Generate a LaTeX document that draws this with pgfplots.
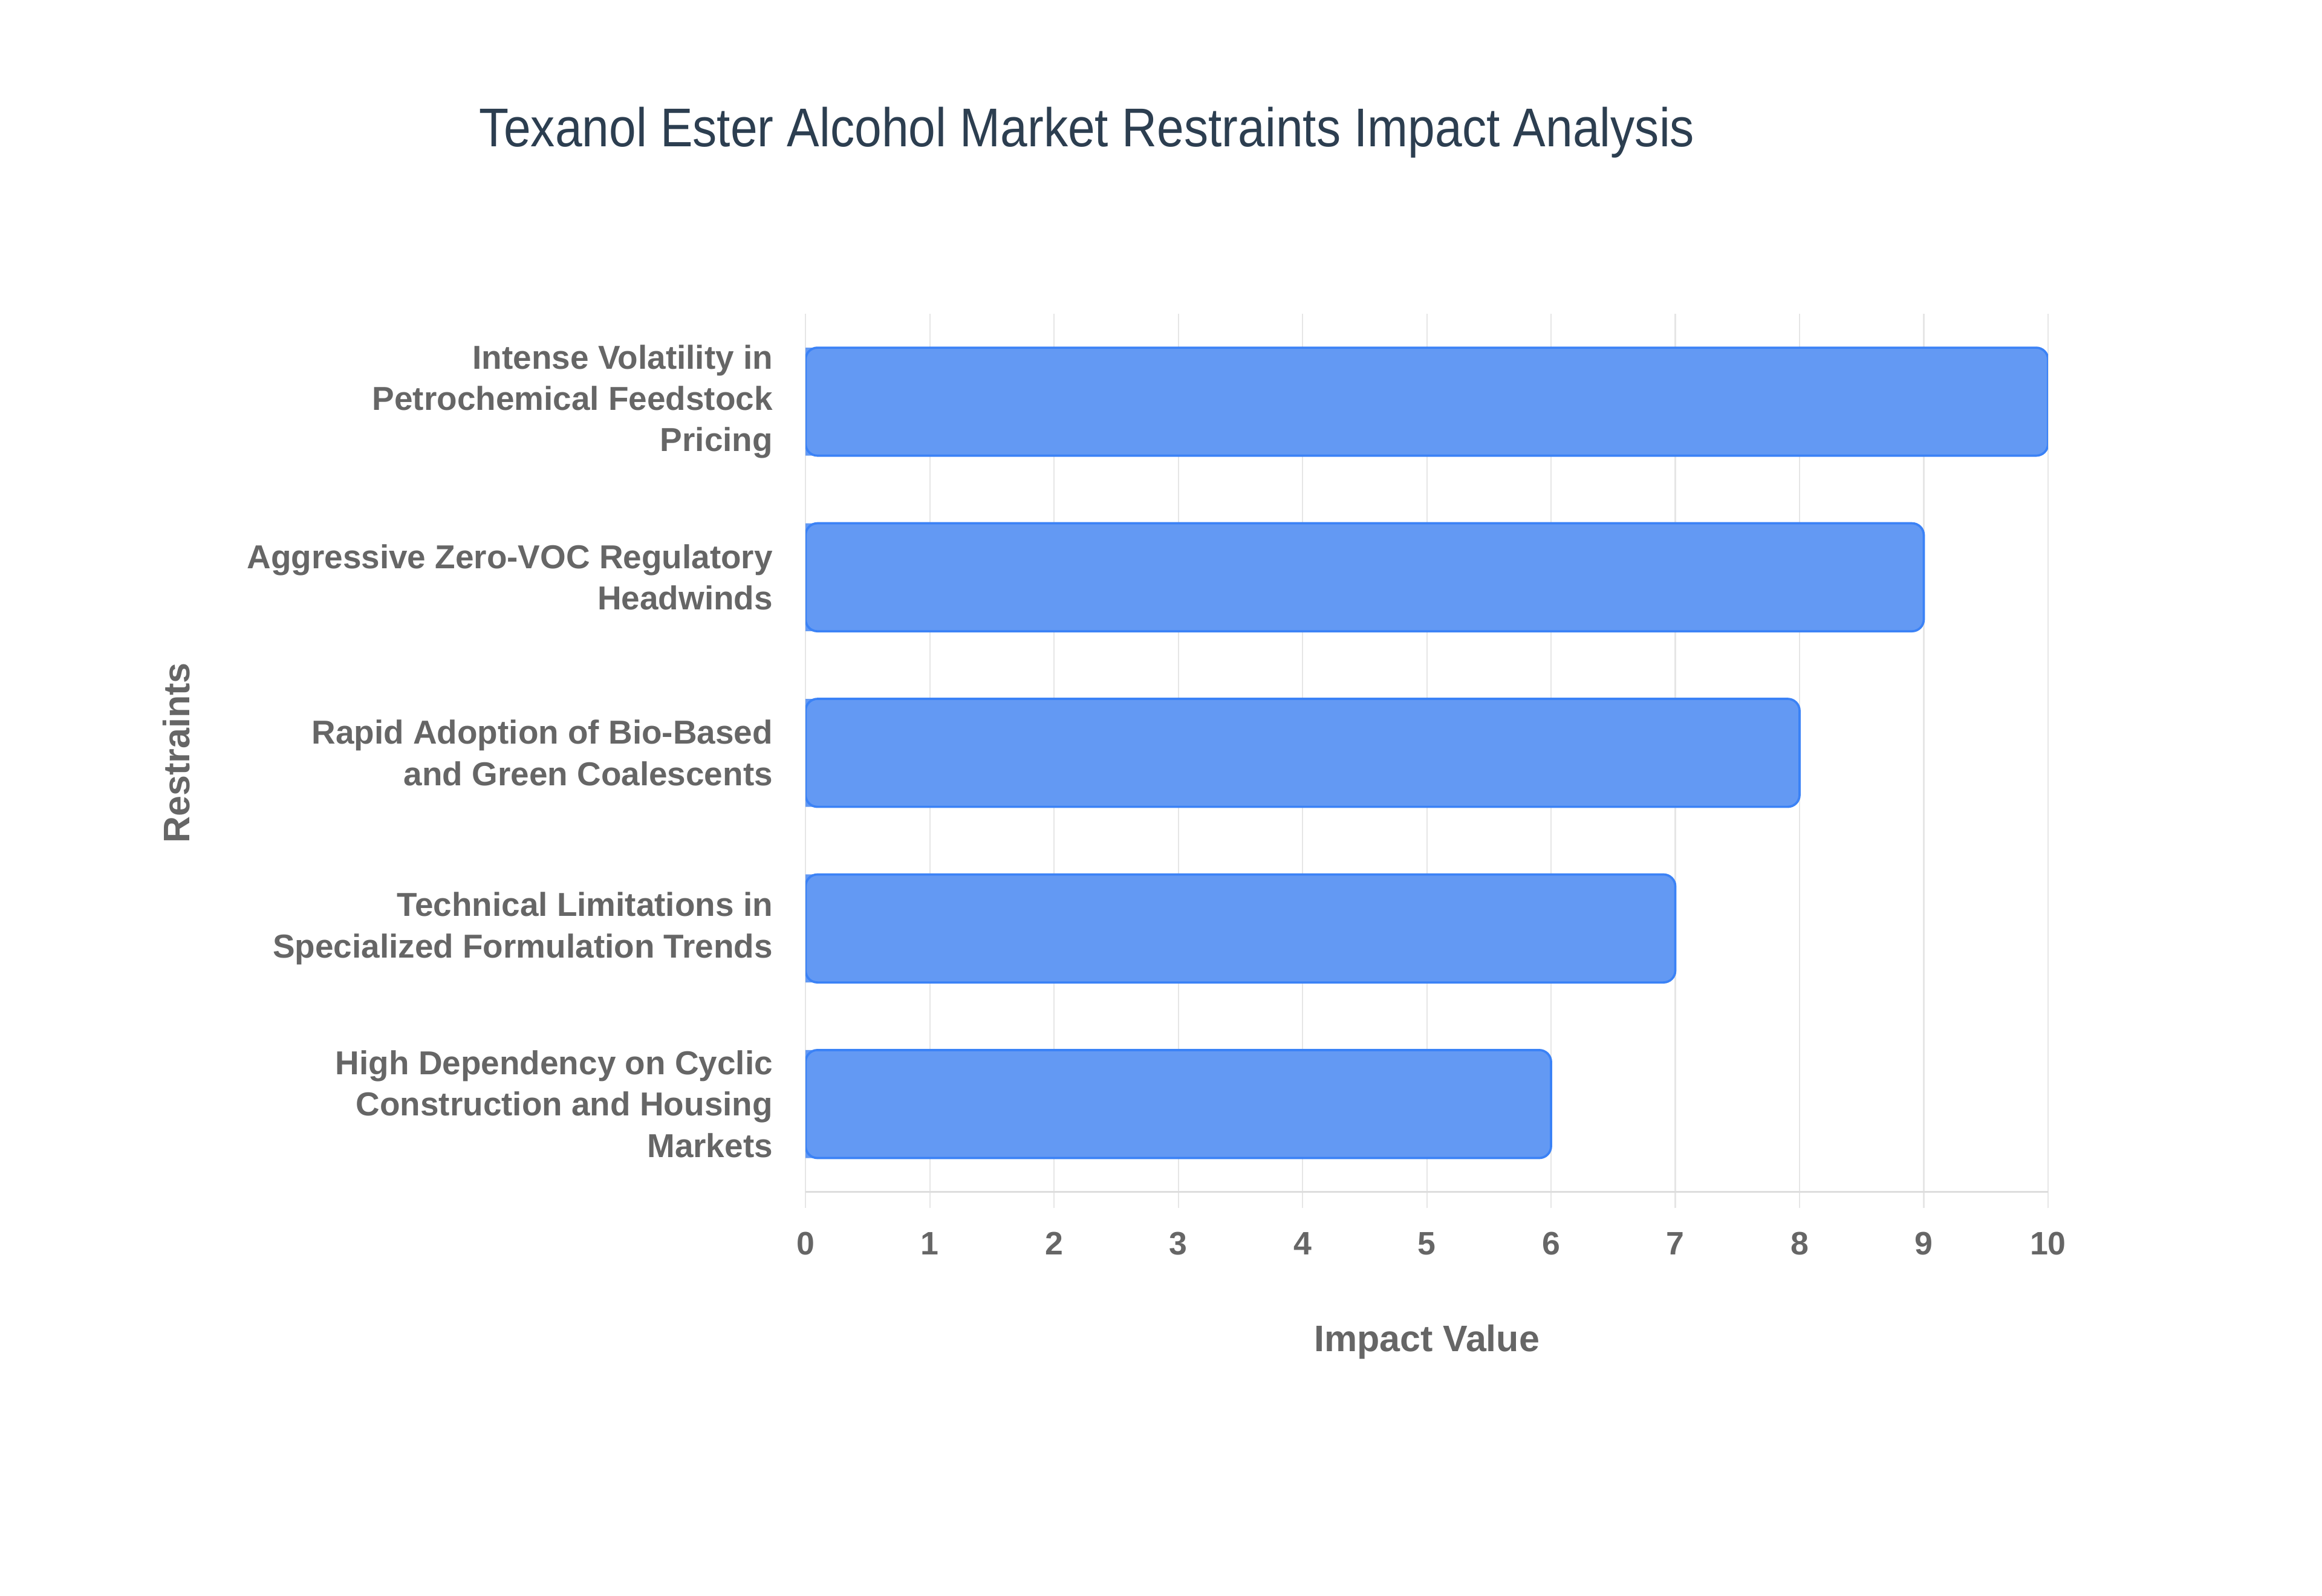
\documentclass[border=0pt]{standalone}
\usepackage{pgfplots}
\pgfplotsset{compat=1.18}
\usepackage{fontspec}
\setmainfont{Liberation Sans}
\newfontfamily\titlefont[FakeStretch=0.89]{Liberation Sans}
\definecolor{barfill}{HTML}{6399F3}
\definecolor{barline}{HTML}{3B82F6}
\definecolor{gridgrey}{HTML}{E6E6E6}
\definecolor{axisgrey}{HTML}{DDDDDD}
\definecolor{labelgrey}{HTML}{666666}
\definecolor{titlecol}{HTML}{2C3E50}
\begin{document}
\begin{tikzpicture}
\fill[white] (0,0) rectangle (1568bp,-1078bp);
\begin{axis}[
  at={(544bp,-805bp)}, anchor=south west,
  width=839bp, height=593bp, scale only axis,
  xmin=0, xmax=10, ymin=-0.5, ymax=4.5,
  xtick={0,1,2,3,4,5,6,7,8,9,10}, ytick={0,1,2,3,4},
  yticklabels={{High Dependency on Cyclic\\Construction and Housing\\Markets},
               {Technical Limitations in\\Specialized Formulation Trends},
               {Rapid Adoption of Bio-Based\\and Green Coalescents},
               {Aggressive Zero-VOC Regulatory\\Headwinds},
               {Intense Volatility in\\Petrochemical Feedstock\\Pricing}},
  xmajorgrids, grid style={gridgrey, line width=0.9bp},
  axis line style={draw=none},
  tick align=outside, major tick length=11bp,
  xtick pos=lower, ytick pos=left,
  xtick style={draw=gridgrey, line width=0.9bp},
  ytick style={draw=none},
  /pgf/number format/assume math mode=true,
  xticklabel style={font=\fontsize{22}{26}\selectfont\bfseries, text=labelgrey, anchor=north, inner sep=0pt, yshift=-16bp},
  yticklabel style={font=\fontsize{22.5}{28}\selectfont\bfseries, text=labelgrey, align=right, anchor=east, inner sep=0pt, xshift=-11bp},
  xlabel={Impact Value},
  ylabel={Restraints},
  every axis x label/.style={at={(axis description cs:0.5,-0.1821)}, anchor=base, font=\fontsize{25}{30}\selectfont\bfseries, text=labelgrey},
  every axis y label/.style={at={(axis description cs:-0.4958,0.5)}, rotate=90, anchor=base, font=\fontsize{25}{30}\selectfont\bfseries, text=labelgrey},
  title={Texanol Ester Alcohol Market Restraints Impact Analysis},
  every axis title/.style={at={(axis description cs:0.2265,1.1902)}, anchor=base, font=\titlefont\fontsize{37}{44}\selectfont, text=titlecol, inner sep=0pt},
  extra description/.code={\draw[axisgrey, line width=1.3bp] (0,0) -- (1,0);},
]
\addplot[xbar, bar width=0.615, fill=barfill, draw=none, x filter/.expression={x/2}, forget plot]
  coordinates {(6,0) (7,1) (8,2) (9,3) (10,4)};
\addplot[xbar, bar width=0.615, fill=barfill, draw=barline, line width=1.5bp, rounded corners=8bp]
  coordinates {(6,0) (7,1) (8,2) (9,3) (10,4)};
\end{axis}
\end{tikzpicture}
\end{document}
